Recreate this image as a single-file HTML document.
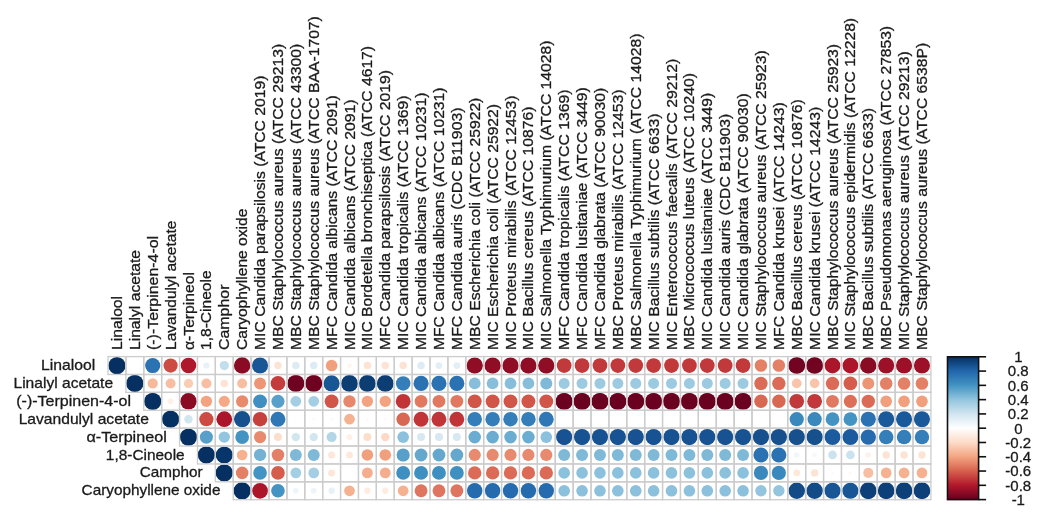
<!DOCTYPE html>
<html><head><meta charset="utf-8"><style>
html,body{margin:0;padding:0;background:#fff;}
body{width:1049px;height:519px;overflow:hidden;}
svg{display:block;filter:blur(0.35px);}
text{font-family:"Liberation Sans",Arial,sans-serif;font-size:15px;fill:#1a1a1a;stroke:#1a1a1a;stroke-width:0.3px;}
</style></head><body>
<svg width="1049" height="519" viewBox="0 0 1049 519">
<rect width="1049" height="519" fill="#fff"/>
<g><circle cx="116.94" cy="365.54" r="8.65" fill="#053061"/><circle cx="152.72" cy="365.54" r="7.57" fill="#2a72b2"/><circle cx="170.61" cy="365.54" r="7.09" fill="#cc4b43"/><circle cx="188.50" cy="365.54" r="7.80" fill="#af172a"/><circle cx="206.39" cy="365.54" r="3.15" fill="#e7f1f7"/><circle cx="224.28" cy="365.54" r="4.63" fill="#c2deec"/><circle cx="242.17" cy="365.54" r="8.24" fill="#890b24"/><circle cx="260.06" cy="365.54" r="8.07" fill="#195696"/><circle cx="277.95" cy="365.54" r="3.72" fill="#fde3d3"/><circle cx="295.84" cy="365.54" r="3.72" fill="#ddecf4"/><circle cx="313.73" cy="365.54" r="3.72" fill="#ddecf4"/><circle cx="331.61" cy="365.54" r="5.82" fill="#f19f7d"/><circle cx="349.50" cy="365.54" r="2.40" fill="#fef5f0"/><circle cx="367.39" cy="365.54" r="3.72" fill="#fde3d3"/><circle cx="385.28" cy="365.54" r="3.72" fill="#fde3d3"/><circle cx="403.17" cy="365.54" r="3.72" fill="#fde3d3"/><circle cx="421.06" cy="365.54" r="3.72" fill="#ddecf4"/><circle cx="438.95" cy="365.54" r="3.39" fill="#e2eff6"/><circle cx="456.84" cy="365.54" r="3.39" fill="#e2eff6"/><circle cx="474.73" cy="365.54" r="8.15" fill="#900d26"/><circle cx="492.62" cy="365.54" r="8.15" fill="#900d26"/><circle cx="510.51" cy="365.54" r="8.15" fill="#900d26"/><circle cx="528.39" cy="365.54" r="8.15" fill="#900d26"/><circle cx="546.28" cy="365.54" r="8.15" fill="#900d26"/><circle cx="564.17" cy="365.54" r="7.38" fill="#c2393b"/><circle cx="582.06" cy="365.54" r="7.38" fill="#c2393b"/><circle cx="599.95" cy="365.54" r="7.38" fill="#c2393b"/><circle cx="617.84" cy="365.54" r="7.38" fill="#c2393b"/><circle cx="635.73" cy="365.54" r="7.38" fill="#c2393b"/><circle cx="653.62" cy="365.54" r="7.38" fill="#c2393b"/><circle cx="671.51" cy="365.54" r="7.38" fill="#c2393b"/><circle cx="689.40" cy="365.54" r="7.38" fill="#c2393b"/><circle cx="707.29" cy="365.54" r="7.38" fill="#c2393b"/><circle cx="725.17" cy="365.54" r="7.38" fill="#c2393b"/><circle cx="743.06" cy="365.54" r="7.38" fill="#c2393b"/><circle cx="760.95" cy="365.54" r="6.29" fill="#e48066"/><circle cx="778.84" cy="365.54" r="6.29" fill="#e48066"/><circle cx="796.73" cy="365.54" r="8.53" fill="#720421"/><circle cx="814.62" cy="365.54" r="8.53" fill="#720421"/><circle cx="832.51" cy="365.54" r="7.89" fill="#ab162a"/><circle cx="850.40" cy="365.54" r="7.89" fill="#ab162a"/><circle cx="868.29" cy="365.54" r="8.24" fill="#890b24"/><circle cx="886.18" cy="365.54" r="8.07" fill="#9c1127"/><circle cx="904.07" cy="365.54" r="8.07" fill="#9c1127"/><circle cx="921.96" cy="365.54" r="8.07" fill="#9c1127"/><circle cx="134.83" cy="383.43" r="8.65" fill="#053061"/><circle cx="152.72" cy="383.43" r="5.15" fill="#f7b99b"/><circle cx="170.61" cy="383.43" r="5.01" fill="#f8bea2"/><circle cx="188.50" cy="383.43" r="4.63" fill="#faccb4"/><circle cx="206.39" cy="383.43" r="5.01" fill="#f8bea2"/><circle cx="224.28" cy="383.43" r="3.72" fill="#fde3d3"/><circle cx="242.17" cy="383.43" r="5.01" fill="#f8bea2"/><circle cx="260.06" cy="383.43" r="6.00" fill="#ed9575"/><circle cx="277.95" cy="383.43" r="7.34" fill="#c43d3c"/><circle cx="295.84" cy="383.43" r="8.57" fill="#6f0220"/><circle cx="313.73" cy="383.43" r="8.57" fill="#6f0220"/><circle cx="331.61" cy="383.43" r="8.07" fill="#195696"/><circle cx="349.50" cy="383.43" r="8.45" fill="#0c3e74"/><circle cx="367.39" cy="383.43" r="8.45" fill="#0c3e74"/><circle cx="385.28" cy="383.43" r="8.45" fill="#0c3e74"/><circle cx="403.17" cy="383.43" r="7.24" fill="#347fb9"/><circle cx="421.06" cy="383.43" r="7.57" fill="#2a72b2"/><circle cx="438.95" cy="383.43" r="7.57" fill="#2a72b2"/><circle cx="456.84" cy="383.43" r="7.57" fill="#2a72b2"/><circle cx="474.73" cy="383.43" r="5.88" fill="#87beda"/><circle cx="492.62" cy="383.43" r="5.88" fill="#87beda"/><circle cx="510.51" cy="383.43" r="5.88" fill="#87beda"/><circle cx="528.39" cy="383.43" r="5.88" fill="#87beda"/><circle cx="546.28" cy="383.43" r="6.00" fill="#7fb9d8"/><circle cx="564.17" cy="383.43" r="5.50" fill="#9ccae1"/><circle cx="582.06" cy="383.43" r="5.50" fill="#9ccae1"/><circle cx="599.95" cy="383.43" r="5.50" fill="#9ccae1"/><circle cx="617.84" cy="383.43" r="5.50" fill="#9ccae1"/><circle cx="635.73" cy="383.43" r="5.50" fill="#9ccae1"/><circle cx="653.62" cy="383.43" r="5.50" fill="#9ccae1"/><circle cx="671.51" cy="383.43" r="5.50" fill="#9ccae1"/><circle cx="689.40" cy="383.43" r="5.50" fill="#9ccae1"/><circle cx="707.29" cy="383.43" r="5.50" fill="#9ccae1"/><circle cx="725.17" cy="383.43" r="5.50" fill="#9ccae1"/><circle cx="743.06" cy="383.43" r="5.50" fill="#9ccae1"/><circle cx="760.95" cy="383.43" r="6.68" fill="#db6b56"/><circle cx="778.84" cy="383.43" r="6.68" fill="#db6b56"/><circle cx="796.73" cy="383.43" r="4.86" fill="#f9c4a9"/><circle cx="814.62" cy="383.43" r="4.86" fill="#f9c4a9"/><circle cx="832.51" cy="383.43" r="6.68" fill="#db6b56"/><circle cx="850.40" cy="383.43" r="6.84" fill="#d55d4c"/><circle cx="868.29" cy="383.43" r="6.00" fill="#ed9575"/><circle cx="886.18" cy="383.43" r="6.29" fill="#e48066"/><circle cx="904.07" cy="383.43" r="6.29" fill="#e48066"/><circle cx="921.96" cy="383.43" r="6.29" fill="#e48066"/><circle cx="152.72" cy="401.32" r="8.65" fill="#053061"/><circle cx="170.61" cy="401.32" r="2.88" fill="#fef0e7"/><circle cx="188.50" cy="401.32" r="8.24" fill="#890b24"/><circle cx="206.39" cy="401.32" r="5.69" fill="#f3a380"/><circle cx="224.28" cy="401.32" r="5.56" fill="#f5a987"/><circle cx="242.17" cy="401.32" r="6.12" fill="#e88a6d"/><circle cx="260.06" cy="401.32" r="6.94" fill="#408fc1"/><circle cx="277.95" cy="401.32" r="6.57" fill="#58a0ca"/><circle cx="295.84" cy="401.32" r="5.36" fill="#a3cee3"/><circle cx="313.73" cy="401.32" r="5.36" fill="#a3cee3"/><circle cx="331.61" cy="401.32" r="6.94" fill="#d15648"/><circle cx="349.50" cy="401.32" r="6.18" fill="#e7876b"/><circle cx="367.39" cy="401.32" r="5.69" fill="#f3a380"/><circle cx="385.28" cy="401.32" r="5.69" fill="#f3a380"/><circle cx="403.17" cy="401.32" r="7.43" fill="#c13539"/><circle cx="421.06" cy="401.32" r="6.41" fill="#e17960"/><circle cx="438.95" cy="401.32" r="6.41" fill="#e17960"/><circle cx="456.84" cy="401.32" r="6.41" fill="#e17960"/><circle cx="474.73" cy="401.32" r="6.94" fill="#d15648"/><circle cx="492.62" cy="401.32" r="6.94" fill="#d15648"/><circle cx="510.51" cy="401.32" r="6.94" fill="#d15648"/><circle cx="528.39" cy="401.32" r="6.94" fill="#d15648"/><circle cx="546.28" cy="401.32" r="6.94" fill="#d15648"/><circle cx="564.17" cy="401.32" r="8.61" fill="#6b0120"/><circle cx="582.06" cy="401.32" r="8.61" fill="#6b0120"/><circle cx="599.95" cy="401.32" r="8.61" fill="#6b0120"/><circle cx="617.84" cy="401.32" r="8.61" fill="#6b0120"/><circle cx="635.73" cy="401.32" r="8.61" fill="#6b0120"/><circle cx="653.62" cy="401.32" r="8.61" fill="#6b0120"/><circle cx="671.51" cy="401.32" r="8.61" fill="#6b0120"/><circle cx="689.40" cy="401.32" r="8.61" fill="#6b0120"/><circle cx="707.29" cy="401.32" r="8.61" fill="#6b0120"/><circle cx="725.17" cy="401.32" r="8.61" fill="#6b0120"/><circle cx="743.06" cy="401.32" r="8.61" fill="#6b0120"/><circle cx="760.95" cy="401.32" r="6.73" fill="#d96853"/><circle cx="778.84" cy="401.32" r="6.73" fill="#d96853"/><circle cx="796.73" cy="401.32" r="7.38" fill="#c2393b"/><circle cx="814.62" cy="401.32" r="7.38" fill="#c2393b"/><circle cx="832.51" cy="401.32" r="6.41" fill="#e17960"/><circle cx="850.40" cy="401.32" r="6.57" fill="#dc6f58"/><circle cx="868.29" cy="401.32" r="6.68" fill="#db6b56"/><circle cx="886.18" cy="401.32" r="5.82" fill="#f19f7d"/><circle cx="904.07" cy="401.32" r="5.82" fill="#f19f7d"/><circle cx="921.96" cy="401.32" r="5.82" fill="#f19f7d"/><circle cx="170.61" cy="419.21" r="8.65" fill="#053061"/><circle cx="188.50" cy="419.21" r="4.20" fill="#d2e6f0"/><circle cx="206.39" cy="419.21" r="7.09" fill="#cc4b43"/><circle cx="224.28" cy="419.21" r="7.89" fill="#ab162a"/><circle cx="242.17" cy="419.21" r="8.15" fill="#16518e"/><circle cx="260.06" cy="419.21" r="7.24" fill="#c6403e"/><circle cx="277.95" cy="419.21" r="7.43" fill="#2f78b5"/><circle cx="295.84" cy="419.21" r="1.74" fill="#fcfdfe"/><circle cx="313.73" cy="419.21" r="1.74" fill="#fffaf8"/><circle cx="331.61" cy="419.21" r="1.74" fill="#fffaf8"/><circle cx="349.50" cy="419.21" r="5.36" fill="#f6b191"/><circle cx="367.39" cy="419.21" r="1.74" fill="#fffaf8"/><circle cx="385.28" cy="419.21" r="1.74" fill="#fffaf8"/><circle cx="403.17" cy="419.21" r="6.73" fill="#d96853"/><circle cx="421.06" cy="419.21" r="7.43" fill="#c13539"/><circle cx="438.95" cy="419.21" r="7.43" fill="#c13539"/><circle cx="456.84" cy="419.21" r="7.43" fill="#c13539"/><circle cx="474.73" cy="419.21" r="7.24" fill="#347fb9"/><circle cx="492.62" cy="419.21" r="7.24" fill="#347fb9"/><circle cx="510.51" cy="419.21" r="7.24" fill="#347fb9"/><circle cx="528.39" cy="419.21" r="7.24" fill="#347fb9"/><circle cx="546.28" cy="419.21" r="7.43" fill="#2f78b5"/><circle cx="564.17" cy="419.21" r="1.41" fill="#fefeff"/><circle cx="582.06" cy="419.21" r="1.41" fill="#fefeff"/><circle cx="599.95" cy="419.21" r="1.41" fill="#fefeff"/><circle cx="617.84" cy="419.21" r="1.41" fill="#fefeff"/><circle cx="635.73" cy="419.21" r="1.41" fill="#fefeff"/><circle cx="653.62" cy="419.21" r="1.41" fill="#fefeff"/><circle cx="671.51" cy="419.21" r="1.41" fill="#fefeff"/><circle cx="689.40" cy="419.21" r="1.41" fill="#fefeff"/><circle cx="707.29" cy="419.21" r="1.41" fill="#fefeff"/><circle cx="725.17" cy="419.21" r="1.41" fill="#fefeff"/><circle cx="743.06" cy="419.21" r="1.41" fill="#fefeff"/><circle cx="760.95" cy="419.21" r="1.41" fill="#fefeff"/><circle cx="778.84" cy="419.21" r="1.41" fill="#fefeff"/><circle cx="796.73" cy="419.21" r="7.09" fill="#3b88bd"/><circle cx="814.62" cy="419.21" r="7.09" fill="#3b88bd"/><circle cx="832.51" cy="419.21" r="6.84" fill="#4494c3"/><circle cx="850.40" cy="419.21" r="6.84" fill="#4494c3"/><circle cx="868.29" cy="419.21" r="7.57" fill="#2a72b2"/><circle cx="886.18" cy="419.21" r="8.02" fill="#1a599a"/><circle cx="904.07" cy="419.21" r="8.02" fill="#1a599a"/><circle cx="921.96" cy="419.21" r="8.02" fill="#1a599a"/><circle cx="188.50" cy="437.10" r="8.65" fill="#053061"/><circle cx="206.39" cy="437.10" r="6.57" fill="#58a0ca"/><circle cx="224.28" cy="437.10" r="5.69" fill="#93c5de"/><circle cx="242.17" cy="437.10" r="6.84" fill="#4494c3"/><circle cx="260.06" cy="437.10" r="6.12" fill="#e88a6d"/><circle cx="277.95" cy="437.10" r="4.02" fill="#fddecb"/><circle cx="295.84" cy="437.10" r="4.20" fill="#d2e6f0"/><circle cx="313.73" cy="437.10" r="4.20" fill="#d2e6f0"/><circle cx="331.61" cy="437.10" r="5.01" fill="#b3d6e7"/><circle cx="349.50" cy="437.10" r="2.88" fill="#fef0e7"/><circle cx="367.39" cy="437.10" r="4.02" fill="#fddecb"/><circle cx="385.28" cy="437.10" r="4.20" fill="#fdd9c5"/><circle cx="403.17" cy="437.10" r="5.82" fill="#8bc1dc"/><circle cx="421.06" cy="437.10" r="4.02" fill="#d7e8f2"/><circle cx="438.95" cy="437.10" r="4.02" fill="#d7e8f2"/><circle cx="456.84" cy="437.10" r="4.02" fill="#d7e8f2"/><circle cx="474.73" cy="437.10" r="6.29" fill="#6badd1"/><circle cx="492.62" cy="437.10" r="6.29" fill="#6badd1"/><circle cx="510.51" cy="437.10" r="6.29" fill="#6badd1"/><circle cx="528.39" cy="437.10" r="6.29" fill="#6badd1"/><circle cx="546.28" cy="437.10" r="5.82" fill="#8bc1dc"/><circle cx="564.17" cy="437.10" r="8.11" fill="#175392"/><circle cx="582.06" cy="437.10" r="8.11" fill="#175392"/><circle cx="599.95" cy="437.10" r="8.11" fill="#175392"/><circle cx="617.84" cy="437.10" r="8.11" fill="#175392"/><circle cx="635.73" cy="437.10" r="8.11" fill="#175392"/><circle cx="653.62" cy="437.10" r="8.11" fill="#175392"/><circle cx="671.51" cy="437.10" r="8.11" fill="#175392"/><circle cx="689.40" cy="437.10" r="8.11" fill="#175392"/><circle cx="707.29" cy="437.10" r="8.11" fill="#175392"/><circle cx="725.17" cy="437.10" r="8.11" fill="#175392"/><circle cx="743.06" cy="437.10" r="8.11" fill="#175392"/><circle cx="760.95" cy="437.10" r="8.15" fill="#16518e"/><circle cx="778.84" cy="437.10" r="8.15" fill="#16518e"/><circle cx="796.73" cy="437.10" r="8.15" fill="#16518e"/><circle cx="814.62" cy="437.10" r="8.15" fill="#16518e"/><circle cx="832.51" cy="437.10" r="7.98" fill="#1c5b9d"/><circle cx="850.40" cy="437.10" r="7.98" fill="#1c5b9d"/><circle cx="868.29" cy="437.10" r="7.71" fill="#256bae"/><circle cx="886.18" cy="437.10" r="7.24" fill="#347fb9"/><circle cx="904.07" cy="437.10" r="7.24" fill="#347fb9"/><circle cx="921.96" cy="437.10" r="7.24" fill="#347fb9"/><circle cx="206.39" cy="454.99" r="8.65" fill="#053061"/><circle cx="224.28" cy="454.99" r="8.57" fill="#083569"/><circle cx="242.17" cy="454.99" r="5.36" fill="#f6b191"/><circle cx="260.06" cy="454.99" r="6.18" fill="#73b2d4"/><circle cx="277.95" cy="454.99" r="6.29" fill="#e48066"/><circle cx="295.84" cy="454.99" r="6.00" fill="#7fb9d8"/><circle cx="313.73" cy="454.99" r="6.00" fill="#7fb9d8"/><circle cx="331.61" cy="454.99" r="3.50" fill="#fee7d9"/><circle cx="349.50" cy="454.99" r="3.39" fill="#fee8dc"/><circle cx="367.39" cy="454.99" r="5.82" fill="#f19f7d"/><circle cx="385.28" cy="454.99" r="5.82" fill="#f19f7d"/><circle cx="403.17" cy="454.99" r="6.57" fill="#58a0ca"/><circle cx="421.06" cy="454.99" r="6.41" fill="#64a8ce"/><circle cx="438.95" cy="454.99" r="6.41" fill="#64a8ce"/><circle cx="456.84" cy="454.99" r="6.41" fill="#64a8ce"/><circle cx="474.73" cy="454.99" r="6.12" fill="#e88a6d"/><circle cx="492.62" cy="454.99" r="6.12" fill="#e88a6d"/><circle cx="510.51" cy="454.99" r="6.12" fill="#e88a6d"/><circle cx="528.39" cy="454.99" r="6.12" fill="#e88a6d"/><circle cx="546.28" cy="454.99" r="6.12" fill="#e88a6d"/><circle cx="564.17" cy="454.99" r="6.00" fill="#7fb9d8"/><circle cx="582.06" cy="454.99" r="6.00" fill="#7fb9d8"/><circle cx="599.95" cy="454.99" r="6.00" fill="#7fb9d8"/><circle cx="617.84" cy="454.99" r="6.00" fill="#7fb9d8"/><circle cx="635.73" cy="454.99" r="6.00" fill="#7fb9d8"/><circle cx="653.62" cy="454.99" r="6.00" fill="#7fb9d8"/><circle cx="671.51" cy="454.99" r="6.00" fill="#7fb9d8"/><circle cx="689.40" cy="454.99" r="6.00" fill="#7fb9d8"/><circle cx="707.29" cy="454.99" r="6.00" fill="#7fb9d8"/><circle cx="725.17" cy="454.99" r="6.00" fill="#7fb9d8"/><circle cx="743.06" cy="454.99" r="6.00" fill="#7fb9d8"/><circle cx="760.95" cy="454.99" r="7.57" fill="#2a72b2"/><circle cx="778.84" cy="454.99" r="7.57" fill="#2a72b2"/><circle cx="796.73" cy="454.99" r="2.73" fill="#f0f7fa"/><circle cx="814.62" cy="454.99" r="2.40" fill="#f5f9fc"/><circle cx="832.51" cy="454.99" r="4.38" fill="#cce2ef"/><circle cx="850.40" cy="454.99" r="4.38" fill="#cce2ef"/><circle cx="868.29" cy="454.99" r="2.73" fill="#fef1ea"/><circle cx="886.18" cy="454.99" r="3.72" fill="#fde3d3"/><circle cx="904.07" cy="454.99" r="3.72" fill="#fde3d3"/><circle cx="921.96" cy="454.99" r="3.72" fill="#fde3d3"/><circle cx="224.28" cy="472.88" r="8.65" fill="#053061"/><circle cx="242.17" cy="472.88" r="6.29" fill="#e48066"/><circle cx="260.06" cy="472.88" r="6.84" fill="#4494c3"/><circle cx="277.95" cy="472.88" r="6.84" fill="#d55d4c"/><circle cx="295.84" cy="472.88" r="5.36" fill="#a3cee3"/><circle cx="313.73" cy="472.88" r="5.36" fill="#a3cee3"/><circle cx="331.61" cy="472.88" r="3.50" fill="#fee7d9"/><circle cx="367.39" cy="472.88" r="5.43" fill="#f5ae8d"/><circle cx="385.28" cy="472.88" r="5.43" fill="#f5ae8d"/><circle cx="403.17" cy="472.88" r="6.94" fill="#408fc1"/><circle cx="421.06" cy="472.88" r="6.94" fill="#408fc1"/><circle cx="438.95" cy="472.88" r="6.94" fill="#408fc1"/><circle cx="456.84" cy="472.88" r="6.94" fill="#408fc1"/><circle cx="474.73" cy="472.88" r="6.68" fill="#db6b56"/><circle cx="492.62" cy="472.88" r="6.68" fill="#db6b56"/><circle cx="510.51" cy="472.88" r="6.68" fill="#db6b56"/><circle cx="528.39" cy="472.88" r="6.68" fill="#db6b56"/><circle cx="546.28" cy="472.88" r="6.68" fill="#db6b56"/><circle cx="564.17" cy="472.88" r="5.82" fill="#8bc1dc"/><circle cx="582.06" cy="472.88" r="5.82" fill="#8bc1dc"/><circle cx="599.95" cy="472.88" r="5.82" fill="#8bc1dc"/><circle cx="617.84" cy="472.88" r="5.82" fill="#8bc1dc"/><circle cx="635.73" cy="472.88" r="5.82" fill="#8bc1dc"/><circle cx="653.62" cy="472.88" r="5.82" fill="#8bc1dc"/><circle cx="671.51" cy="472.88" r="5.82" fill="#8bc1dc"/><circle cx="689.40" cy="472.88" r="5.82" fill="#8bc1dc"/><circle cx="707.29" cy="472.88" r="5.82" fill="#8bc1dc"/><circle cx="725.17" cy="472.88" r="5.82" fill="#8bc1dc"/><circle cx="743.06" cy="472.88" r="5.82" fill="#8bc1dc"/><circle cx="760.95" cy="472.88" r="7.09" fill="#3b88bd"/><circle cx="778.84" cy="472.88" r="7.09" fill="#3b88bd"/><circle cx="796.73" cy="472.88" r="3.39" fill="#fee8dc"/><circle cx="814.62" cy="472.88" r="3.72" fill="#fde3d3"/><circle cx="832.51" cy="472.88" r="1.74" fill="#fffaf8"/><circle cx="850.40" cy="472.88" r="1.74" fill="#fffaf8"/><circle cx="868.29" cy="472.88" r="5.01" fill="#f8bea2"/><circle cx="886.18" cy="472.88" r="5.36" fill="#f6b191"/><circle cx="904.07" cy="472.88" r="5.36" fill="#f6b191"/><circle cx="921.96" cy="472.88" r="5.36" fill="#f6b191"/><circle cx="242.17" cy="490.77" r="8.65" fill="#053061"/><circle cx="260.06" cy="490.77" r="7.89" fill="#ab162a"/><circle cx="277.95" cy="490.77" r="6.84" fill="#4494c3"/><circle cx="295.84" cy="490.77" r="2.88" fill="#eef5f9"/><circle cx="313.73" cy="490.77" r="2.88" fill="#eef5f9"/><circle cx="331.61" cy="490.77" r="3.15" fill="#e7f1f7"/><circle cx="349.50" cy="490.77" r="5.36" fill="#f6b191"/><circle cx="367.39" cy="490.77" r="3.15" fill="#feece1"/><circle cx="385.28" cy="490.77" r="3.15" fill="#feece1"/><circle cx="403.17" cy="490.77" r="5.36" fill="#f6b191"/><circle cx="421.06" cy="490.77" r="6.46" fill="#df755e"/><circle cx="438.95" cy="490.77" r="6.46" fill="#df755e"/><circle cx="456.84" cy="490.77" r="6.46" fill="#df755e"/><circle cx="474.73" cy="490.77" r="7.71" fill="#256bae"/><circle cx="492.62" cy="490.77" r="7.71" fill="#256bae"/><circle cx="510.51" cy="490.77" r="7.71" fill="#256bae"/><circle cx="528.39" cy="490.77" r="7.71" fill="#256bae"/><circle cx="546.28" cy="490.77" r="7.71" fill="#256bae"/><circle cx="564.17" cy="490.77" r="5.82" fill="#8bc1dc"/><circle cx="582.06" cy="490.77" r="5.82" fill="#8bc1dc"/><circle cx="599.95" cy="490.77" r="5.82" fill="#8bc1dc"/><circle cx="617.84" cy="490.77" r="5.82" fill="#8bc1dc"/><circle cx="635.73" cy="490.77" r="5.82" fill="#8bc1dc"/><circle cx="653.62" cy="490.77" r="5.82" fill="#8bc1dc"/><circle cx="671.51" cy="490.77" r="5.82" fill="#8bc1dc"/><circle cx="689.40" cy="490.77" r="5.82" fill="#8bc1dc"/><circle cx="707.29" cy="490.77" r="5.82" fill="#8bc1dc"/><circle cx="725.17" cy="490.77" r="5.82" fill="#8bc1dc"/><circle cx="743.06" cy="490.77" r="5.82" fill="#8bc1dc"/><circle cx="760.95" cy="490.77" r="5.69" fill="#93c5de"/><circle cx="778.84" cy="490.77" r="5.69" fill="#93c5de"/><circle cx="796.73" cy="490.77" r="8.24" fill="#134b87"/><circle cx="814.62" cy="490.77" r="8.24" fill="#134b87"/><circle cx="832.51" cy="490.77" r="8.07" fill="#195696"/><circle cx="850.40" cy="490.77" r="8.07" fill="#195696"/><circle cx="868.29" cy="490.77" r="8.40" fill="#0d4078"/><circle cx="886.18" cy="490.77" r="8.40" fill="#0d4078"/><circle cx="904.07" cy="490.77" r="8.40" fill="#0d4078"/><circle cx="921.96" cy="490.77" r="8.40" fill="#0d4078"/></g>
<g fill="none" stroke="#cccccc" stroke-width="1.3"><rect x="108.00" y="356.60" width="17.89" height="17.89"/><rect x="125.89" y="356.60" width="17.89" height="17.89"/><rect x="143.78" y="356.60" width="17.89" height="17.89"/><rect x="161.67" y="356.60" width="17.89" height="17.89"/><rect x="179.56" y="356.60" width="17.89" height="17.89"/><rect x="197.45" y="356.60" width="17.89" height="17.89"/><rect x="215.33" y="356.60" width="17.89" height="17.89"/><rect x="233.22" y="356.60" width="17.89" height="17.89"/><rect x="251.11" y="356.60" width="17.89" height="17.89"/><rect x="269.00" y="356.60" width="17.89" height="17.89"/><rect x="286.89" y="356.60" width="17.89" height="17.89"/><rect x="304.78" y="356.60" width="17.89" height="17.89"/><rect x="322.67" y="356.60" width="17.89" height="17.89"/><rect x="340.56" y="356.60" width="17.89" height="17.89"/><rect x="358.45" y="356.60" width="17.89" height="17.89"/><rect x="376.34" y="356.60" width="17.89" height="17.89"/><rect x="394.23" y="356.60" width="17.89" height="17.89"/><rect x="412.12" y="356.60" width="17.89" height="17.89"/><rect x="430.00" y="356.60" width="17.89" height="17.89"/><rect x="447.89" y="356.60" width="17.89" height="17.89"/><rect x="465.78" y="356.60" width="17.89" height="17.89"/><rect x="483.67" y="356.60" width="17.89" height="17.89"/><rect x="501.56" y="356.60" width="17.89" height="17.89"/><rect x="519.45" y="356.60" width="17.89" height="17.89"/><rect x="537.34" y="356.60" width="17.89" height="17.89"/><rect x="555.23" y="356.60" width="17.89" height="17.89"/><rect x="573.12" y="356.60" width="17.89" height="17.89"/><rect x="591.01" y="356.60" width="17.89" height="17.89"/><rect x="608.90" y="356.60" width="17.89" height="17.89"/><rect x="626.78" y="356.60" width="17.89" height="17.89"/><rect x="644.67" y="356.60" width="17.89" height="17.89"/><rect x="662.56" y="356.60" width="17.89" height="17.89"/><rect x="680.45" y="356.60" width="17.89" height="17.89"/><rect x="698.34" y="356.60" width="17.89" height="17.89"/><rect x="716.23" y="356.60" width="17.89" height="17.89"/><rect x="734.12" y="356.60" width="17.89" height="17.89"/><rect x="752.01" y="356.60" width="17.89" height="17.89"/><rect x="769.90" y="356.60" width="17.89" height="17.89"/><rect x="787.79" y="356.60" width="17.89" height="17.89"/><rect x="805.68" y="356.60" width="17.89" height="17.89"/><rect x="823.57" y="356.60" width="17.89" height="17.89"/><rect x="841.45" y="356.60" width="17.89" height="17.89"/><rect x="859.34" y="356.60" width="17.89" height="17.89"/><rect x="877.23" y="356.60" width="17.89" height="17.89"/><rect x="895.12" y="356.60" width="17.89" height="17.89"/><rect x="913.01" y="356.60" width="17.89" height="17.89"/><rect x="125.89" y="374.49" width="17.89" height="17.89"/><rect x="143.78" y="374.49" width="17.89" height="17.89"/><rect x="161.67" y="374.49" width="17.89" height="17.89"/><rect x="179.56" y="374.49" width="17.89" height="17.89"/><rect x="197.45" y="374.49" width="17.89" height="17.89"/><rect x="215.33" y="374.49" width="17.89" height="17.89"/><rect x="233.22" y="374.49" width="17.89" height="17.89"/><rect x="251.11" y="374.49" width="17.89" height="17.89"/><rect x="269.00" y="374.49" width="17.89" height="17.89"/><rect x="286.89" y="374.49" width="17.89" height="17.89"/><rect x="304.78" y="374.49" width="17.89" height="17.89"/><rect x="322.67" y="374.49" width="17.89" height="17.89"/><rect x="340.56" y="374.49" width="17.89" height="17.89"/><rect x="358.45" y="374.49" width="17.89" height="17.89"/><rect x="376.34" y="374.49" width="17.89" height="17.89"/><rect x="394.23" y="374.49" width="17.89" height="17.89"/><rect x="412.12" y="374.49" width="17.89" height="17.89"/><rect x="430.00" y="374.49" width="17.89" height="17.89"/><rect x="447.89" y="374.49" width="17.89" height="17.89"/><rect x="465.78" y="374.49" width="17.89" height="17.89"/><rect x="483.67" y="374.49" width="17.89" height="17.89"/><rect x="501.56" y="374.49" width="17.89" height="17.89"/><rect x="519.45" y="374.49" width="17.89" height="17.89"/><rect x="537.34" y="374.49" width="17.89" height="17.89"/><rect x="555.23" y="374.49" width="17.89" height="17.89"/><rect x="573.12" y="374.49" width="17.89" height="17.89"/><rect x="591.01" y="374.49" width="17.89" height="17.89"/><rect x="608.90" y="374.49" width="17.89" height="17.89"/><rect x="626.78" y="374.49" width="17.89" height="17.89"/><rect x="644.67" y="374.49" width="17.89" height="17.89"/><rect x="662.56" y="374.49" width="17.89" height="17.89"/><rect x="680.45" y="374.49" width="17.89" height="17.89"/><rect x="698.34" y="374.49" width="17.89" height="17.89"/><rect x="716.23" y="374.49" width="17.89" height="17.89"/><rect x="734.12" y="374.49" width="17.89" height="17.89"/><rect x="752.01" y="374.49" width="17.89" height="17.89"/><rect x="769.90" y="374.49" width="17.89" height="17.89"/><rect x="787.79" y="374.49" width="17.89" height="17.89"/><rect x="805.68" y="374.49" width="17.89" height="17.89"/><rect x="823.57" y="374.49" width="17.89" height="17.89"/><rect x="841.45" y="374.49" width="17.89" height="17.89"/><rect x="859.34" y="374.49" width="17.89" height="17.89"/><rect x="877.23" y="374.49" width="17.89" height="17.89"/><rect x="895.12" y="374.49" width="17.89" height="17.89"/><rect x="913.01" y="374.49" width="17.89" height="17.89"/><rect x="143.78" y="392.38" width="17.89" height="17.89"/><rect x="161.67" y="392.38" width="17.89" height="17.89"/><rect x="179.56" y="392.38" width="17.89" height="17.89"/><rect x="197.45" y="392.38" width="17.89" height="17.89"/><rect x="215.33" y="392.38" width="17.89" height="17.89"/><rect x="233.22" y="392.38" width="17.89" height="17.89"/><rect x="251.11" y="392.38" width="17.89" height="17.89"/><rect x="269.00" y="392.38" width="17.89" height="17.89"/><rect x="286.89" y="392.38" width="17.89" height="17.89"/><rect x="304.78" y="392.38" width="17.89" height="17.89"/><rect x="322.67" y="392.38" width="17.89" height="17.89"/><rect x="340.56" y="392.38" width="17.89" height="17.89"/><rect x="358.45" y="392.38" width="17.89" height="17.89"/><rect x="376.34" y="392.38" width="17.89" height="17.89"/><rect x="394.23" y="392.38" width="17.89" height="17.89"/><rect x="412.12" y="392.38" width="17.89" height="17.89"/><rect x="430.00" y="392.38" width="17.89" height="17.89"/><rect x="447.89" y="392.38" width="17.89" height="17.89"/><rect x="465.78" y="392.38" width="17.89" height="17.89"/><rect x="483.67" y="392.38" width="17.89" height="17.89"/><rect x="501.56" y="392.38" width="17.89" height="17.89"/><rect x="519.45" y="392.38" width="17.89" height="17.89"/><rect x="537.34" y="392.38" width="17.89" height="17.89"/><rect x="555.23" y="392.38" width="17.89" height="17.89"/><rect x="573.12" y="392.38" width="17.89" height="17.89"/><rect x="591.01" y="392.38" width="17.89" height="17.89"/><rect x="608.90" y="392.38" width="17.89" height="17.89"/><rect x="626.78" y="392.38" width="17.89" height="17.89"/><rect x="644.67" y="392.38" width="17.89" height="17.89"/><rect x="662.56" y="392.38" width="17.89" height="17.89"/><rect x="680.45" y="392.38" width="17.89" height="17.89"/><rect x="698.34" y="392.38" width="17.89" height="17.89"/><rect x="716.23" y="392.38" width="17.89" height="17.89"/><rect x="734.12" y="392.38" width="17.89" height="17.89"/><rect x="752.01" y="392.38" width="17.89" height="17.89"/><rect x="769.90" y="392.38" width="17.89" height="17.89"/><rect x="787.79" y="392.38" width="17.89" height="17.89"/><rect x="805.68" y="392.38" width="17.89" height="17.89"/><rect x="823.57" y="392.38" width="17.89" height="17.89"/><rect x="841.45" y="392.38" width="17.89" height="17.89"/><rect x="859.34" y="392.38" width="17.89" height="17.89"/><rect x="877.23" y="392.38" width="17.89" height="17.89"/><rect x="895.12" y="392.38" width="17.89" height="17.89"/><rect x="913.01" y="392.38" width="17.89" height="17.89"/><rect x="161.67" y="410.27" width="17.89" height="17.89"/><rect x="179.56" y="410.27" width="17.89" height="17.89"/><rect x="197.45" y="410.27" width="17.89" height="17.89"/><rect x="215.33" y="410.27" width="17.89" height="17.89"/><rect x="233.22" y="410.27" width="17.89" height="17.89"/><rect x="251.11" y="410.27" width="17.89" height="17.89"/><rect x="269.00" y="410.27" width="17.89" height="17.89"/><rect x="286.89" y="410.27" width="17.89" height="17.89"/><rect x="304.78" y="410.27" width="17.89" height="17.89"/><rect x="322.67" y="410.27" width="17.89" height="17.89"/><rect x="340.56" y="410.27" width="17.89" height="17.89"/><rect x="358.45" y="410.27" width="17.89" height="17.89"/><rect x="376.34" y="410.27" width="17.89" height="17.89"/><rect x="394.23" y="410.27" width="17.89" height="17.89"/><rect x="412.12" y="410.27" width="17.89" height="17.89"/><rect x="430.00" y="410.27" width="17.89" height="17.89"/><rect x="447.89" y="410.27" width="17.89" height="17.89"/><rect x="465.78" y="410.27" width="17.89" height="17.89"/><rect x="483.67" y="410.27" width="17.89" height="17.89"/><rect x="501.56" y="410.27" width="17.89" height="17.89"/><rect x="519.45" y="410.27" width="17.89" height="17.89"/><rect x="537.34" y="410.27" width="17.89" height="17.89"/><rect x="555.23" y="410.27" width="17.89" height="17.89"/><rect x="573.12" y="410.27" width="17.89" height="17.89"/><rect x="591.01" y="410.27" width="17.89" height="17.89"/><rect x="608.90" y="410.27" width="17.89" height="17.89"/><rect x="626.78" y="410.27" width="17.89" height="17.89"/><rect x="644.67" y="410.27" width="17.89" height="17.89"/><rect x="662.56" y="410.27" width="17.89" height="17.89"/><rect x="680.45" y="410.27" width="17.89" height="17.89"/><rect x="698.34" y="410.27" width="17.89" height="17.89"/><rect x="716.23" y="410.27" width="17.89" height="17.89"/><rect x="734.12" y="410.27" width="17.89" height="17.89"/><rect x="752.01" y="410.27" width="17.89" height="17.89"/><rect x="769.90" y="410.27" width="17.89" height="17.89"/><rect x="787.79" y="410.27" width="17.89" height="17.89"/><rect x="805.68" y="410.27" width="17.89" height="17.89"/><rect x="823.57" y="410.27" width="17.89" height="17.89"/><rect x="841.45" y="410.27" width="17.89" height="17.89"/><rect x="859.34" y="410.27" width="17.89" height="17.89"/><rect x="877.23" y="410.27" width="17.89" height="17.89"/><rect x="895.12" y="410.27" width="17.89" height="17.89"/><rect x="913.01" y="410.27" width="17.89" height="17.89"/><rect x="179.56" y="428.16" width="17.89" height="17.89"/><rect x="197.45" y="428.16" width="17.89" height="17.89"/><rect x="215.33" y="428.16" width="17.89" height="17.89"/><rect x="233.22" y="428.16" width="17.89" height="17.89"/><rect x="251.11" y="428.16" width="17.89" height="17.89"/><rect x="269.00" y="428.16" width="17.89" height="17.89"/><rect x="286.89" y="428.16" width="17.89" height="17.89"/><rect x="304.78" y="428.16" width="17.89" height="17.89"/><rect x="322.67" y="428.16" width="17.89" height="17.89"/><rect x="340.56" y="428.16" width="17.89" height="17.89"/><rect x="358.45" y="428.16" width="17.89" height="17.89"/><rect x="376.34" y="428.16" width="17.89" height="17.89"/><rect x="394.23" y="428.16" width="17.89" height="17.89"/><rect x="412.12" y="428.16" width="17.89" height="17.89"/><rect x="430.00" y="428.16" width="17.89" height="17.89"/><rect x="447.89" y="428.16" width="17.89" height="17.89"/><rect x="465.78" y="428.16" width="17.89" height="17.89"/><rect x="483.67" y="428.16" width="17.89" height="17.89"/><rect x="501.56" y="428.16" width="17.89" height="17.89"/><rect x="519.45" y="428.16" width="17.89" height="17.89"/><rect x="537.34" y="428.16" width="17.89" height="17.89"/><rect x="555.23" y="428.16" width="17.89" height="17.89"/><rect x="573.12" y="428.16" width="17.89" height="17.89"/><rect x="591.01" y="428.16" width="17.89" height="17.89"/><rect x="608.90" y="428.16" width="17.89" height="17.89"/><rect x="626.78" y="428.16" width="17.89" height="17.89"/><rect x="644.67" y="428.16" width="17.89" height="17.89"/><rect x="662.56" y="428.16" width="17.89" height="17.89"/><rect x="680.45" y="428.16" width="17.89" height="17.89"/><rect x="698.34" y="428.16" width="17.89" height="17.89"/><rect x="716.23" y="428.16" width="17.89" height="17.89"/><rect x="734.12" y="428.16" width="17.89" height="17.89"/><rect x="752.01" y="428.16" width="17.89" height="17.89"/><rect x="769.90" y="428.16" width="17.89" height="17.89"/><rect x="787.79" y="428.16" width="17.89" height="17.89"/><rect x="805.68" y="428.16" width="17.89" height="17.89"/><rect x="823.57" y="428.16" width="17.89" height="17.89"/><rect x="841.45" y="428.16" width="17.89" height="17.89"/><rect x="859.34" y="428.16" width="17.89" height="17.89"/><rect x="877.23" y="428.16" width="17.89" height="17.89"/><rect x="895.12" y="428.16" width="17.89" height="17.89"/><rect x="913.01" y="428.16" width="17.89" height="17.89"/><rect x="197.45" y="446.05" width="17.89" height="17.89"/><rect x="215.33" y="446.05" width="17.89" height="17.89"/><rect x="233.22" y="446.05" width="17.89" height="17.89"/><rect x="251.11" y="446.05" width="17.89" height="17.89"/><rect x="269.00" y="446.05" width="17.89" height="17.89"/><rect x="286.89" y="446.05" width="17.89" height="17.89"/><rect x="304.78" y="446.05" width="17.89" height="17.89"/><rect x="322.67" y="446.05" width="17.89" height="17.89"/><rect x="340.56" y="446.05" width="17.89" height="17.89"/><rect x="358.45" y="446.05" width="17.89" height="17.89"/><rect x="376.34" y="446.05" width="17.89" height="17.89"/><rect x="394.23" y="446.05" width="17.89" height="17.89"/><rect x="412.12" y="446.05" width="17.89" height="17.89"/><rect x="430.00" y="446.05" width="17.89" height="17.89"/><rect x="447.89" y="446.05" width="17.89" height="17.89"/><rect x="465.78" y="446.05" width="17.89" height="17.89"/><rect x="483.67" y="446.05" width="17.89" height="17.89"/><rect x="501.56" y="446.05" width="17.89" height="17.89"/><rect x="519.45" y="446.05" width="17.89" height="17.89"/><rect x="537.34" y="446.05" width="17.89" height="17.89"/><rect x="555.23" y="446.05" width="17.89" height="17.89"/><rect x="573.12" y="446.05" width="17.89" height="17.89"/><rect x="591.01" y="446.05" width="17.89" height="17.89"/><rect x="608.90" y="446.05" width="17.89" height="17.89"/><rect x="626.78" y="446.05" width="17.89" height="17.89"/><rect x="644.67" y="446.05" width="17.89" height="17.89"/><rect x="662.56" y="446.05" width="17.89" height="17.89"/><rect x="680.45" y="446.05" width="17.89" height="17.89"/><rect x="698.34" y="446.05" width="17.89" height="17.89"/><rect x="716.23" y="446.05" width="17.89" height="17.89"/><rect x="734.12" y="446.05" width="17.89" height="17.89"/><rect x="752.01" y="446.05" width="17.89" height="17.89"/><rect x="769.90" y="446.05" width="17.89" height="17.89"/><rect x="787.79" y="446.05" width="17.89" height="17.89"/><rect x="805.68" y="446.05" width="17.89" height="17.89"/><rect x="823.57" y="446.05" width="17.89" height="17.89"/><rect x="841.45" y="446.05" width="17.89" height="17.89"/><rect x="859.34" y="446.05" width="17.89" height="17.89"/><rect x="877.23" y="446.05" width="17.89" height="17.89"/><rect x="895.12" y="446.05" width="17.89" height="17.89"/><rect x="913.01" y="446.05" width="17.89" height="17.89"/><rect x="215.33" y="463.93" width="17.89" height="17.89"/><rect x="233.22" y="463.93" width="17.89" height="17.89"/><rect x="251.11" y="463.93" width="17.89" height="17.89"/><rect x="269.00" y="463.93" width="17.89" height="17.89"/><rect x="286.89" y="463.93" width="17.89" height="17.89"/><rect x="304.78" y="463.93" width="17.89" height="17.89"/><rect x="322.67" y="463.93" width="17.89" height="17.89"/><rect x="340.56" y="463.93" width="17.89" height="17.89"/><rect x="358.45" y="463.93" width="17.89" height="17.89"/><rect x="376.34" y="463.93" width="17.89" height="17.89"/><rect x="394.23" y="463.93" width="17.89" height="17.89"/><rect x="412.12" y="463.93" width="17.89" height="17.89"/><rect x="430.00" y="463.93" width="17.89" height="17.89"/><rect x="447.89" y="463.93" width="17.89" height="17.89"/><rect x="465.78" y="463.93" width="17.89" height="17.89"/><rect x="483.67" y="463.93" width="17.89" height="17.89"/><rect x="501.56" y="463.93" width="17.89" height="17.89"/><rect x="519.45" y="463.93" width="17.89" height="17.89"/><rect x="537.34" y="463.93" width="17.89" height="17.89"/><rect x="555.23" y="463.93" width="17.89" height="17.89"/><rect x="573.12" y="463.93" width="17.89" height="17.89"/><rect x="591.01" y="463.93" width="17.89" height="17.89"/><rect x="608.90" y="463.93" width="17.89" height="17.89"/><rect x="626.78" y="463.93" width="17.89" height="17.89"/><rect x="644.67" y="463.93" width="17.89" height="17.89"/><rect x="662.56" y="463.93" width="17.89" height="17.89"/><rect x="680.45" y="463.93" width="17.89" height="17.89"/><rect x="698.34" y="463.93" width="17.89" height="17.89"/><rect x="716.23" y="463.93" width="17.89" height="17.89"/><rect x="734.12" y="463.93" width="17.89" height="17.89"/><rect x="752.01" y="463.93" width="17.89" height="17.89"/><rect x="769.90" y="463.93" width="17.89" height="17.89"/><rect x="787.79" y="463.93" width="17.89" height="17.89"/><rect x="805.68" y="463.93" width="17.89" height="17.89"/><rect x="823.57" y="463.93" width="17.89" height="17.89"/><rect x="841.45" y="463.93" width="17.89" height="17.89"/><rect x="859.34" y="463.93" width="17.89" height="17.89"/><rect x="877.23" y="463.93" width="17.89" height="17.89"/><rect x="895.12" y="463.93" width="17.89" height="17.89"/><rect x="913.01" y="463.93" width="17.89" height="17.89"/><rect x="233.22" y="481.82" width="17.89" height="17.89"/><rect x="251.11" y="481.82" width="17.89" height="17.89"/><rect x="269.00" y="481.82" width="17.89" height="17.89"/><rect x="286.89" y="481.82" width="17.89" height="17.89"/><rect x="304.78" y="481.82" width="17.89" height="17.89"/><rect x="322.67" y="481.82" width="17.89" height="17.89"/><rect x="340.56" y="481.82" width="17.89" height="17.89"/><rect x="358.45" y="481.82" width="17.89" height="17.89"/><rect x="376.34" y="481.82" width="17.89" height="17.89"/><rect x="394.23" y="481.82" width="17.89" height="17.89"/><rect x="412.12" y="481.82" width="17.89" height="17.89"/><rect x="430.00" y="481.82" width="17.89" height="17.89"/><rect x="447.89" y="481.82" width="17.89" height="17.89"/><rect x="465.78" y="481.82" width="17.89" height="17.89"/><rect x="483.67" y="481.82" width="17.89" height="17.89"/><rect x="501.56" y="481.82" width="17.89" height="17.89"/><rect x="519.45" y="481.82" width="17.89" height="17.89"/><rect x="537.34" y="481.82" width="17.89" height="17.89"/><rect x="555.23" y="481.82" width="17.89" height="17.89"/><rect x="573.12" y="481.82" width="17.89" height="17.89"/><rect x="591.01" y="481.82" width="17.89" height="17.89"/><rect x="608.90" y="481.82" width="17.89" height="17.89"/><rect x="626.78" y="481.82" width="17.89" height="17.89"/><rect x="644.67" y="481.82" width="17.89" height="17.89"/><rect x="662.56" y="481.82" width="17.89" height="17.89"/><rect x="680.45" y="481.82" width="17.89" height="17.89"/><rect x="698.34" y="481.82" width="17.89" height="17.89"/><rect x="716.23" y="481.82" width="17.89" height="17.89"/><rect x="734.12" y="481.82" width="17.89" height="17.89"/><rect x="752.01" y="481.82" width="17.89" height="17.89"/><rect x="769.90" y="481.82" width="17.89" height="17.89"/><rect x="787.79" y="481.82" width="17.89" height="17.89"/><rect x="805.68" y="481.82" width="17.89" height="17.89"/><rect x="823.57" y="481.82" width="17.89" height="17.89"/><rect x="841.45" y="481.82" width="17.89" height="17.89"/><rect x="859.34" y="481.82" width="17.89" height="17.89"/><rect x="877.23" y="481.82" width="17.89" height="17.89"/><rect x="895.12" y="481.82" width="17.89" height="17.89"/><rect x="913.01" y="481.82" width="17.89" height="17.89"/></g>
<g><text x="95.20" y="370.14" text-anchor="end" textLength="54.18" lengthAdjust="spacingAndGlyphs">Linalool</text><text x="113.09" y="388.03" text-anchor="end" textLength="99.58" lengthAdjust="spacingAndGlyphs">Linalyl acetate</text><text x="130.98" y="405.92" text-anchor="end" textLength="114.73" lengthAdjust="spacingAndGlyphs">(-)-Terpinen-4-ol</text><text x="148.87" y="423.81" text-anchor="end" textLength="130.20" lengthAdjust="spacingAndGlyphs">Lavandulyl acetate</text><text x="166.76" y="441.70" text-anchor="end" textLength="80.27" lengthAdjust="spacingAndGlyphs">α-Terpineol</text><text x="184.65" y="459.59" text-anchor="end" textLength="78.76" lengthAdjust="spacingAndGlyphs">1,8-Cineole</text><text x="202.53" y="477.48" text-anchor="end" textLength="62.82" lengthAdjust="spacingAndGlyphs">Camphor</text><text x="220.42" y="495.37" text-anchor="end" textLength="138.84" lengthAdjust="spacingAndGlyphs">Caryophyllene oxide</text><text transform="translate(121.94,350.0) rotate(-90)" style="font-size:15.4px" textLength="54.08" lengthAdjust="spacingAndGlyphs">Linalool</text><text transform="translate(139.83,350.0) rotate(-90)" style="font-size:15.4px" textLength="99.99" lengthAdjust="spacingAndGlyphs">Linalyl acetate</text><text transform="translate(157.72,350.0) rotate(-90)" style="font-size:15.4px" textLength="114.06" lengthAdjust="spacingAndGlyphs">(-)-Terpinen-4-ol</text><text transform="translate(175.61,350.0) rotate(-90)" style="font-size:15.4px" textLength="129.35" lengthAdjust="spacingAndGlyphs">Lavandulyl acetate</text><text transform="translate(193.50,350.0) rotate(-90)" style="font-size:15.4px" textLength="77.97" lengthAdjust="spacingAndGlyphs">α-Terpineol</text><text transform="translate(211.39,350.0) rotate(-90)" style="font-size:15.4px" textLength="79.58" lengthAdjust="spacingAndGlyphs">1,8-Cineole</text><text transform="translate(229.28,350.0) rotate(-90)" style="font-size:15.4px" textLength="65.45" lengthAdjust="spacingAndGlyphs">Camphor</text><text transform="translate(247.17,350.0) rotate(-90)" style="font-size:15.4px" textLength="141.40" lengthAdjust="spacingAndGlyphs">Caryophyllene oxide</text><text transform="translate(265.06,350.0) rotate(-90)" style="font-size:15.4px" textLength="274.45" lengthAdjust="spacingAndGlyphs">MIC Candida parapsilosis (ATCC 2019)</text><text transform="translate(282.95,350.0) rotate(-90)" style="font-size:15.4px" textLength="306.19" lengthAdjust="spacingAndGlyphs">MBC Staphylococcus aureus (ATCC 29213)</text><text transform="translate(300.84,350.0) rotate(-90)" style="font-size:15.4px" textLength="306.19" lengthAdjust="spacingAndGlyphs">MBC Staphylococcus aureus (ATCC 43300)</text><text transform="translate(318.73,350.0) rotate(-90)" style="font-size:15.4px" textLength="333.83" lengthAdjust="spacingAndGlyphs">MBC Staphylococcus aureus (ATCC BAA-1707)</text><text transform="translate(336.61,350.0) rotate(-90)" style="font-size:15.4px" textLength="254.86" lengthAdjust="spacingAndGlyphs">MFC Candida albicans (ATCC 2091)</text><text transform="translate(354.50,350.0) rotate(-90)" style="font-size:15.4px" textLength="250.59" lengthAdjust="spacingAndGlyphs">MIC Candida albicans (ATCC 2091)</text><text transform="translate(372.39,350.0) rotate(-90)" style="font-size:15.4px" textLength="304.01" lengthAdjust="spacingAndGlyphs">MIC Bordetella bronchiseptica (ATCC 4617)</text><text transform="translate(390.28,350.0) rotate(-90)" style="font-size:15.4px" textLength="279.94" lengthAdjust="spacingAndGlyphs">MFC Candida parapsilosis (ATCC 2019)</text><text transform="translate(408.17,350.0) rotate(-90)" style="font-size:15.4px" textLength="254.44" lengthAdjust="spacingAndGlyphs">MIC Candida tropicalis (ATCC 1369)</text><text transform="translate(426.06,350.0) rotate(-90)" style="font-size:15.4px" textLength="257.48" lengthAdjust="spacingAndGlyphs">MIC Candida albicans (ATCC 10231)</text><text transform="translate(443.95,350.0) rotate(-90)" style="font-size:15.4px" textLength="262.47" lengthAdjust="spacingAndGlyphs">MFC Candida albicans (ATCC 10231)</text><text transform="translate(461.84,350.0) rotate(-90)" style="font-size:15.4px" textLength="242.44" lengthAdjust="spacingAndGlyphs">MFC Candida auris (CDC B11903)</text><text transform="translate(479.73,350.0) rotate(-90)" style="font-size:15.4px" textLength="252.33" lengthAdjust="spacingAndGlyphs">MBC Escherichia coli (ATCC 25922)</text><text transform="translate(497.62,350.0) rotate(-90)" style="font-size:15.4px" textLength="246.01" lengthAdjust="spacingAndGlyphs">MIC Escherichia coli (ATCC 25922)</text><text transform="translate(515.51,350.0) rotate(-90)" style="font-size:15.4px" textLength="254.43" lengthAdjust="spacingAndGlyphs">MIC Proteus mirabilis (ATCC 12453)</text><text transform="translate(533.39,350.0) rotate(-90)" style="font-size:15.4px" textLength="243.52" lengthAdjust="spacingAndGlyphs">MIC Bacillus cereus (ATCC 10876)</text><text transform="translate(551.28,350.0) rotate(-90)" style="font-size:15.4px" textLength="309.57" lengthAdjust="spacingAndGlyphs">MIC Salmonella Typhimurium (ATCC 14028)</text><text transform="translate(569.17,350.0) rotate(-90)" style="font-size:15.4px" textLength="260.64" lengthAdjust="spacingAndGlyphs">MFC Candida tropicalis (ATCC 1369)</text><text transform="translate(587.06,350.0) rotate(-90)" style="font-size:15.4px" textLength="262.67" lengthAdjust="spacingAndGlyphs">MFC Candida lusitaniae (ATCC 3449)</text><text transform="translate(604.95,350.0) rotate(-90)" style="font-size:15.4px" textLength="262.16" lengthAdjust="spacingAndGlyphs">MFC Candida glabrata (ATCC 90030)</text><text transform="translate(622.84,350.0) rotate(-90)" style="font-size:15.4px" textLength="260.45" lengthAdjust="spacingAndGlyphs">MBC Proteus mirabilis (ATCC 12453)</text><text transform="translate(640.73,350.0) rotate(-90)" style="font-size:15.4px" textLength="316.55" lengthAdjust="spacingAndGlyphs">MBC Salmonella Typhimurium (ATCC 14028)</text><text transform="translate(658.62,350.0) rotate(-90)" style="font-size:15.4px" textLength="236.47" lengthAdjust="spacingAndGlyphs">MIC Bacillus subtilis (ATCC 6633)</text><text transform="translate(676.51,350.0) rotate(-90)" style="font-size:15.4px" textLength="291.28" lengthAdjust="spacingAndGlyphs">MIC Enterococcus faecalis (ATCC 29212)</text><text transform="translate(694.40,350.0) rotate(-90)" style="font-size:15.4px" textLength="277.01" lengthAdjust="spacingAndGlyphs">MBC Micrococcus luteus (ATCC 10240)</text><text transform="translate(712.29,350.0) rotate(-90)" style="font-size:15.4px" textLength="257.18" lengthAdjust="spacingAndGlyphs">MIC Candida lusitaniae (ATCC 3449)</text><text transform="translate(730.17,350.0) rotate(-90)" style="font-size:15.4px" textLength="236.35" lengthAdjust="spacingAndGlyphs">MIC Candida auris (CDC B11903)</text><text transform="translate(748.06,350.0) rotate(-90)" style="font-size:15.4px" textLength="256.68" lengthAdjust="spacingAndGlyphs">MIC Candida glabrata (ATCC 90030)</text><text transform="translate(765.95,350.0) rotate(-90)" style="font-size:15.4px" textLength="299.82" lengthAdjust="spacingAndGlyphs">MIC Staphylococcus aureus (ATCC 25923)</text><text transform="translate(783.84,350.0) rotate(-90)" style="font-size:15.4px" textLength="247.76" lengthAdjust="spacingAndGlyphs">MFC Candida krusei (ATCC 14243)</text><text transform="translate(801.73,350.0) rotate(-90)" style="font-size:15.4px" textLength="250.75" lengthAdjust="spacingAndGlyphs">MBC Bacillus cereus (ATCC 10876)</text><text transform="translate(819.62,350.0) rotate(-90)" style="font-size:15.4px" textLength="243.38" lengthAdjust="spacingAndGlyphs">MIC Candida krusei (ATCC 14243)</text><text transform="translate(837.51,350.0) rotate(-90)" style="font-size:15.4px" textLength="306.09" lengthAdjust="spacingAndGlyphs">MBC Staphylococcus aureus (ATCC 25923)</text><text transform="translate(855.40,350.0) rotate(-90)" style="font-size:15.4px" textLength="332.09" lengthAdjust="spacingAndGlyphs">MIC Staphylococcus epidermidis (ATCC 12228)</text><text transform="translate(873.29,350.0) rotate(-90)" style="font-size:15.4px" textLength="242.09" lengthAdjust="spacingAndGlyphs">MBC Bacillus subtilis (ATCC 6633)</text><text transform="translate(891.18,350.0) rotate(-90)" style="font-size:15.4px" textLength="324.04" lengthAdjust="spacingAndGlyphs">MBC Pseudomonas aeruginosa (ATCC 27853)</text><text transform="translate(909.07,350.0) rotate(-90)" style="font-size:15.4px" textLength="298.71" lengthAdjust="spacingAndGlyphs">MIC Staphylococcus aureus (ATCC 29213)</text><text transform="translate(926.96,350.0) rotate(-90)" style="font-size:15.4px" textLength="307.12" lengthAdjust="spacingAndGlyphs">MBC Staphylococcus aureus (ATCC 6538P)</text></g>
<defs><linearGradient id="cb" x1="0" y1="0" x2="0" y2="1"><stop offset="0.0" stop-color="#053061"/><stop offset="0.1" stop-color="#2166AC"/><stop offset="0.2" stop-color="#4393C3"/><stop offset="0.3" stop-color="#92C5DE"/><stop offset="0.4" stop-color="#D1E5F0"/><stop offset="0.5" stop-color="#FFFFFF"/><stop offset="0.6" stop-color="#FDDBC7"/><stop offset="0.7" stop-color="#F4A582"/><stop offset="0.8" stop-color="#D6604D"/><stop offset="0.9" stop-color="#B2182B"/><stop offset="1.0" stop-color="#67001F"/></linearGradient></defs>
<rect x="947.5" y="356.8" width="31.10" height="142.80" fill="url(#cb)" stroke="#111" stroke-width="1.6"/>
<g stroke="#111" stroke-width="1.6"><line x1="978.6" y1="356.80" x2="986.10" y2="356.80"/><line x1="978.6" y1="371.08" x2="986.10" y2="371.08"/><line x1="978.6" y1="385.36" x2="986.10" y2="385.36"/><line x1="978.6" y1="399.64" x2="986.10" y2="399.64"/><line x1="978.6" y1="413.92" x2="986.10" y2="413.92"/><line x1="978.6" y1="428.20" x2="986.10" y2="428.20"/><line x1="978.6" y1="442.48" x2="986.10" y2="442.48"/><line x1="978.6" y1="456.76" x2="986.10" y2="456.76"/><line x1="978.6" y1="471.04" x2="986.10" y2="471.04"/><line x1="978.6" y1="485.32" x2="986.10" y2="485.32"/><line x1="978.6" y1="499.60" x2="986.10" y2="499.60"/></g>
<g><text x="1018.3" y="362.10" text-anchor="middle">1</text><text x="1018.3" y="376.38" text-anchor="middle">0.8</text><text x="1018.3" y="390.66" text-anchor="middle">0.6</text><text x="1018.3" y="404.94" text-anchor="middle">0.4</text><text x="1018.3" y="419.22" text-anchor="middle">0.2</text><text x="1018.3" y="433.50" text-anchor="middle">0</text><text x="1018.3" y="447.78" text-anchor="middle">-0.2</text><text x="1018.3" y="462.06" text-anchor="middle">-0.4</text><text x="1018.3" y="476.34" text-anchor="middle">-0.6</text><text x="1018.3" y="490.62" text-anchor="middle">-0.8</text><text x="1018.3" y="504.90" text-anchor="middle">-1</text></g>
</svg></body></html>
